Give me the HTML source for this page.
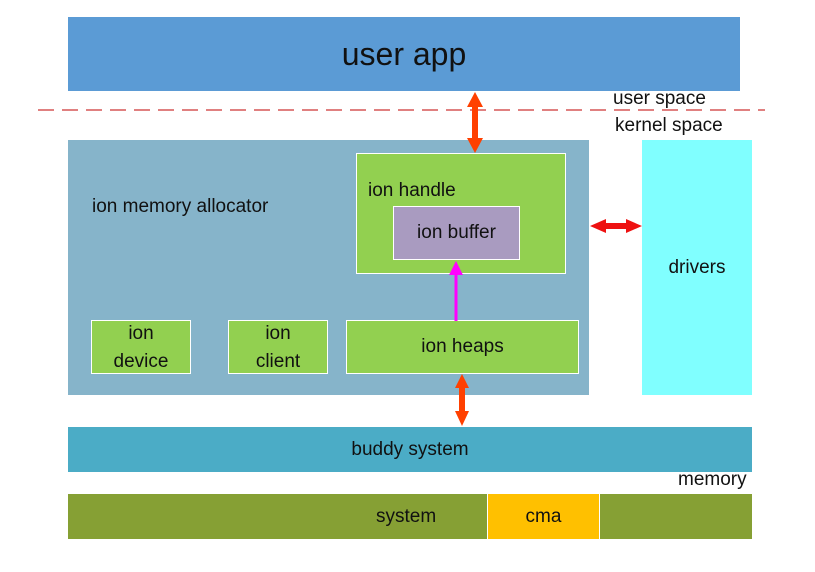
<!DOCTYPE html>
<html><head><style>
body{margin:0;width:815px;height:572px;background:#fff;position:relative;overflow:hidden;font-family:"Liberation Sans",sans-serif;}
.b{position:absolute;box-sizing:border-box;display:flex;align-items:center;justify-content:center;text-align:center;color:#111;font-size:19px;line-height:28px;}
.t{position:absolute;font-size:19px;color:#111;white-space:nowrap;}
.g{background:#92d050;border:1px solid #fff;}
</style></head><body>
<div class="b" style="left:68px;top:17px;width:672px;height:74px;background:#5b9bd5;font-size:32px;">user app</div>
<div class="b" style="left:68px;top:140px;width:521px;height:255px;background:#86b4ca;"></div>
<div class="t" style="left:92px;top:196px;">ion memory allocator</div>
<div class="b g" style="left:356px;top:153px;width:210px;height:121px;"></div>
<div class="t" style="left:368px;top:180px;">ion handle</div>
<div class="b" style="left:393px;top:206px;width:127px;height:54px;background:#a99bc0;border:1px solid #fff;">ion buffer</div>
<div class="b g" style="left:91px;top:320px;width:100px;height:54px;padding-top:2px;">ion<br>device</div>
<div class="b g" style="left:228px;top:320px;width:100px;height:54px;padding-top:2px;">ion<br>client</div>
<div class="b g" style="left:346px;top:320px;width:233px;height:54px;">ion heaps</div>
<div class="b" style="left:642px;top:140px;width:110px;height:255px;background:#80ffff;">drivers</div>
<div class="b" style="left:68px;top:427px;width:684px;height:45px;background:#4bacc6;">buddy system</div>
<div class="b" style="left:68px;top:494px;width:684px;height:45px;background:#86a034;"></div>
<div class="t" style="left:376px;top:506px;">system</div>
<div class="b" style="left:487px;top:494px;width:113px;height:45px;background:#ffc000;border-left:1px solid #fff;border-right:1px solid #fff;">cma</div>
<div class="t" style="left:613px;top:88px;">user space</div>
<div class="t" style="left:615px;top:115px;">kernel space</div>
<div class="t" style="left:678px;top:469px;">memory</div>
<svg width="815" height="572" style="position:absolute;left:0;top:0">
<line x1="38" y1="110" x2="765" y2="110" stroke="#c00000" stroke-width="1" stroke-dasharray="16,8"/>
<g fill="#ff4000">
<polygon points="475,92 483,107 478,107 478,138 483,138 475,153 467,138 472,138 472,107 467,107"/>
<polygon points="462,374 469,388 465,388 465,411 469,411 462,426 455,411 459,411 459,388 455,388"/>
</g>
<polygon fill="#ee1111" points="590,226 606,219 606,223 626,223 626,219 642,226 626,233 626,229 606,229 606,233"/>
<line x1="456" y1="321" x2="456" y2="272" stroke="#ff00ff" stroke-width="3"/>
<polygon fill="#ff00ff" points="456,261 463,275 449,275"/>
</svg>
</body></html>
